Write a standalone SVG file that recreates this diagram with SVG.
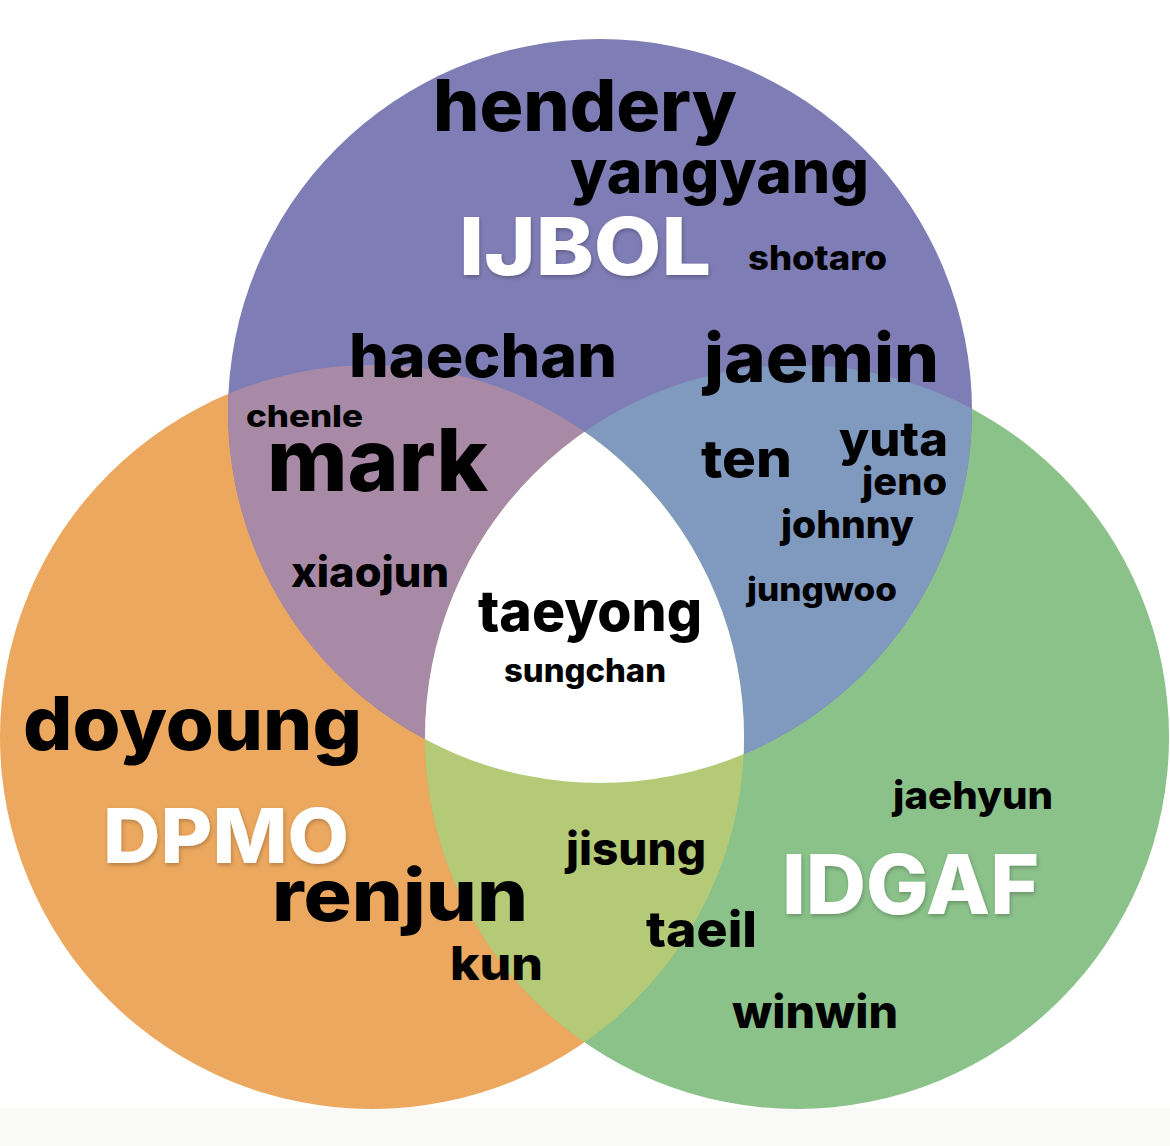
<svg xmlns="http://www.w3.org/2000/svg" width="1170" height="1146" viewBox="0 0 1170 1146">
<defs>
<style>
text { font-family: Inter, "Liberation Sans", "DejaVu Sans", sans-serif; font-weight: 800; fill: #000; }
.w { fill: #fff; filter: url(#sh); }
</style>
<clipPath id="cO"><circle cx="372" cy="737" r="372"/></clipPath>
<clipPath id="cG"><circle cx="797" cy="737" r="372"/></clipPath>
<clipPath id="cP"><circle cx="600" cy="411" r="372"/></clipPath>
<filter id="sh" x="-10%" y="-20%" width="120%" height="150%">
<feDropShadow dx="1" dy="2" stdDeviation="2" flood-color="#000" flood-opacity="0.25"/>
</filter>
</defs>
<rect x="0" y="0" width="1170" height="1146" fill="#ffffff"/>
<rect x="0" y="1108" width="1170" height="38" fill="#f9f9f7"/>
<g id="circles">
<circle id="dpmo-circle" cx="372" cy="737" r="372" fill="#eca85e"/>
<circle id="idgaf-circle" cx="797" cy="737" r="372" fill="#8bc28a"/>
<circle id="ijbol-circle" cx="600" cy="411" r="372" fill="#7f7db5"/>
<circle id="ijbol-dpmo" cx="600" cy="411" r="372" fill="#a98aa6" clip-path="url(#cO)"/>
<circle id="ijbol-idgaf" cx="600" cy="411" r="372" fill="#8099be" clip-path="url(#cG)"/>
<circle id="dpmo-idgaf" cx="797" cy="737" r="372" fill="#b4ca76" clip-path="url(#cO)"/>
<g clip-path="url(#cO)">
<circle id="all-three" cx="797" cy="737" r="372" fill="#ffffff" clip-path="url(#cP)"/>
</g>
</g>
<g id="labels">
<g id="ijbol-set">
<text x="433" y="131" font-size="72" textLength="304" lengthAdjust="spacingAndGlyphs">hendery</text>
<text x="570" y="193" font-size="60" textLength="299" lengthAdjust="spacingAndGlyphs">yangyang</text>
<text class="w" x="459" y="275" font-size="80" textLength="252" lengthAdjust="spacingAndGlyphs">IJBOL</text>
<text x="748" y="270" font-size="34" textLength="139" lengthAdjust="spacingAndGlyphs">shotaro</text>
<text x="349" y="377" font-size="60" textLength="268" lengthAdjust="spacingAndGlyphs">haechan</text>
<text x="704" y="382" font-size="68" textLength="235" lengthAdjust="spacingAndGlyphs">jaemin</text>
</g>
<g id="ijbol-dpmo-set">
<text x="246" y="427" font-size="30" textLength="117" lengthAdjust="spacingAndGlyphs">chenle</text>
<text x="267" y="491" font-size="86" textLength="221" lengthAdjust="spacingAndGlyphs">mark</text>
<text x="291" y="587" font-size="42" textLength="158" lengthAdjust="spacingAndGlyphs">xiaojun</text>
</g>
<g id="ijbol-idgaf-set">
<text x="701" y="477" font-size="52" textLength="91" lengthAdjust="spacingAndGlyphs">ten</text>
<text x="839" y="456" font-size="48" textLength="109" lengthAdjust="spacingAndGlyphs">yuta</text>
<text x="862" y="495" font-size="38" textLength="85" lengthAdjust="spacingAndGlyphs">jeno</text>
<text x="781" y="538" font-size="38" textLength="133" lengthAdjust="spacingAndGlyphs">johnny</text>
<text x="747" y="601" font-size="32" textLength="150" lengthAdjust="spacingAndGlyphs">jungwoo</text>
</g>
<g id="all-set">
<text x="478" y="631" font-size="56" textLength="224" lengthAdjust="spacingAndGlyphs">taeyong</text>
<text x="504" y="682" font-size="32" textLength="162" lengthAdjust="spacingAndGlyphs">sungchan</text>
</g>
<g id="dpmo-set">
<text x="23" y="750" font-size="74" textLength="339" lengthAdjust="spacingAndGlyphs">doyoung</text>
<text class="w" x="103" y="863" font-size="76" textLength="246" lengthAdjust="spacingAndGlyphs">DPMO</text>
<text x="272" y="921" font-size="72" textLength="256" lengthAdjust="spacingAndGlyphs">renjun</text>
<text x="450" y="980" font-size="46" textLength="93" lengthAdjust="spacingAndGlyphs">kun</text>
</g>
<g id="dpmo-idgaf-set">
<text x="566" y="865" font-size="46" textLength="140" lengthAdjust="spacingAndGlyphs">jisung</text>
<text x="646" y="947" font-size="50" textLength="111" lengthAdjust="spacingAndGlyphs">taeil</text>
</g>
<g id="idgaf-set">
<text x="893" y="809" font-size="38" textLength="160" lengthAdjust="spacingAndGlyphs">jaehyun</text>
<text class="w" x="782" y="914" font-size="82" textLength="257" lengthAdjust="spacingAndGlyphs">IDGAF</text>
<text x="732" y="1028" font-size="46" textLength="166" lengthAdjust="spacingAndGlyphs">winwin</text>
</g>
</g>
</svg>
